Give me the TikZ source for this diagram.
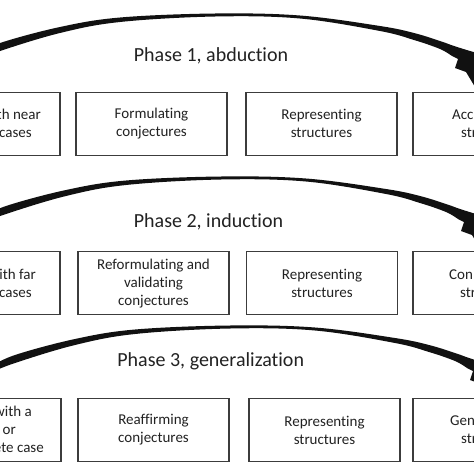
\documentclass[tikz,border=0pt]{standalone}
\usepackage{fontspec}
\setmainfont{Carlito}[Ligatures=NoCommon]
\definecolor{boxgray}{HTML}{3C3C3C}
\definecolor{txt}{HTML}{222222}
\definecolor{arrowblack}{HTML}{111111}
\begin{document}
\begin{tikzpicture}[x=1pt,y=-1pt,
  box/.style={draw=boxgray, line width=1.1pt, minimum width=151pt, minimum height=63pt, inner sep=0pt, align=center, font=\fontsize{15}{18}\selectfont, text=txt},
  frag/.style={inner sep=0pt, font=\fontsize{15}{18}\selectfont, text=txt},
  phasetitle/.style={inner sep=0pt, font=\fontsize{20}{24}\selectfont, text=txt, anchor=base},
  phasearrow/.pic={
    \fill[arrowblack] plot[smooth, tension=0.6] coordinates {(-25,55) (0,43) (60,27) (120,17.5) (215,13.5) (300,15.5) (380,26) (414,33) (440,41) (454,46) (470,51)}
      -- (492,57) -- (481,97) -- (466,72) -- (455,68) -- (458,59)
      -- plot[smooth, tension=0.6] coordinates {(452,56) (440,49) (414,40) (380,31) (300,18.5) (215,16.5) (120,22) (60,33) (0,51) (-25,61)}
      -- cycle;
  }]
\useasboundingbox (0,0) rectangle (474,474);
\clip (0,0) rectangle (474,474);
\fill[white] (0,0) rectangle (474,474);

% arrows
\pic at (0,0) {phasearrow};
\pic at (6,163) {phasearrow};
\pic at (15,312) {phasearrow};

% titles
\node[phasetitle] (t1) at (211,61) {Phase 1, abduction};
\node[phasetitle] (t2) at (208.5,227.5) {Phase 2, induction};
\node[phasetitle] (t3) at (210.7,366.5) {Phase 3, generalization};

% row 1
\node[box, minimum width=160pt] (l1) at (-20,123.85) {};
\node[box] (b12) at (151.5,123.85) {Formulating\\conjectures};
\node[box] (b13) at (321.5,123.85) {Representing\\structures};
\node[box, minimum width=160pt] (r1) at (493,123.85) {};
\node[frag, anchor=base east] (l1a) at (41,119) {with near};
\node[frag, anchor=base east] (l1b) at (32,137) {cases};
\node[frag, anchor=base west] (r1a) at (452,119) {Acc};
\node[frag, anchor=base west] (r1b) at (461,137) {str};

% row 2
\node[box, minimum width=160pt] (l2) at (-20,283.35) {};
\node[box] (b22) at (153.5,283.35) {Reformulating and\\validating\\conjectures};
\node[box] (b23) at (322,283.35) {Representing\\structures};
\node[box, minimum width=160pt] (r2) at (493,283.35) {};
\node[frag, anchor=base east] (l2a) at (36,279) {with far};
\node[frag, anchor=base east] (l2b) at (32,297) {cases};
\node[frag, anchor=base west] (r2a) at (449,279) {Con};
\node[frag, anchor=base west] (r2b) at (460,297) {str};

% row 3
\node[box, minimum width=160pt] (l3) at (-19,430) {};
\node[box] (b32) at (153.5,430) {Reaffirming\\conjectures};
\node[box] (b33) at (324.5,430) {Representing\\structures};
\node[box, minimum width=160pt] (r3) at (493,430) {};
\node[frag, anchor=base east] (l3a) at (32,416) {with a};
\node[frag, anchor=base east] (l3b) at (16,434) {or};
\node[frag, anchor=base east] (l3c) at (44,452.5) {concrete case};
\node[frag, anchor=base west] (r3a) at (450,425) {Gen};
\node[frag, anchor=base west] (r3b) at (461,443) {str};
\end{tikzpicture}
\end{document}
